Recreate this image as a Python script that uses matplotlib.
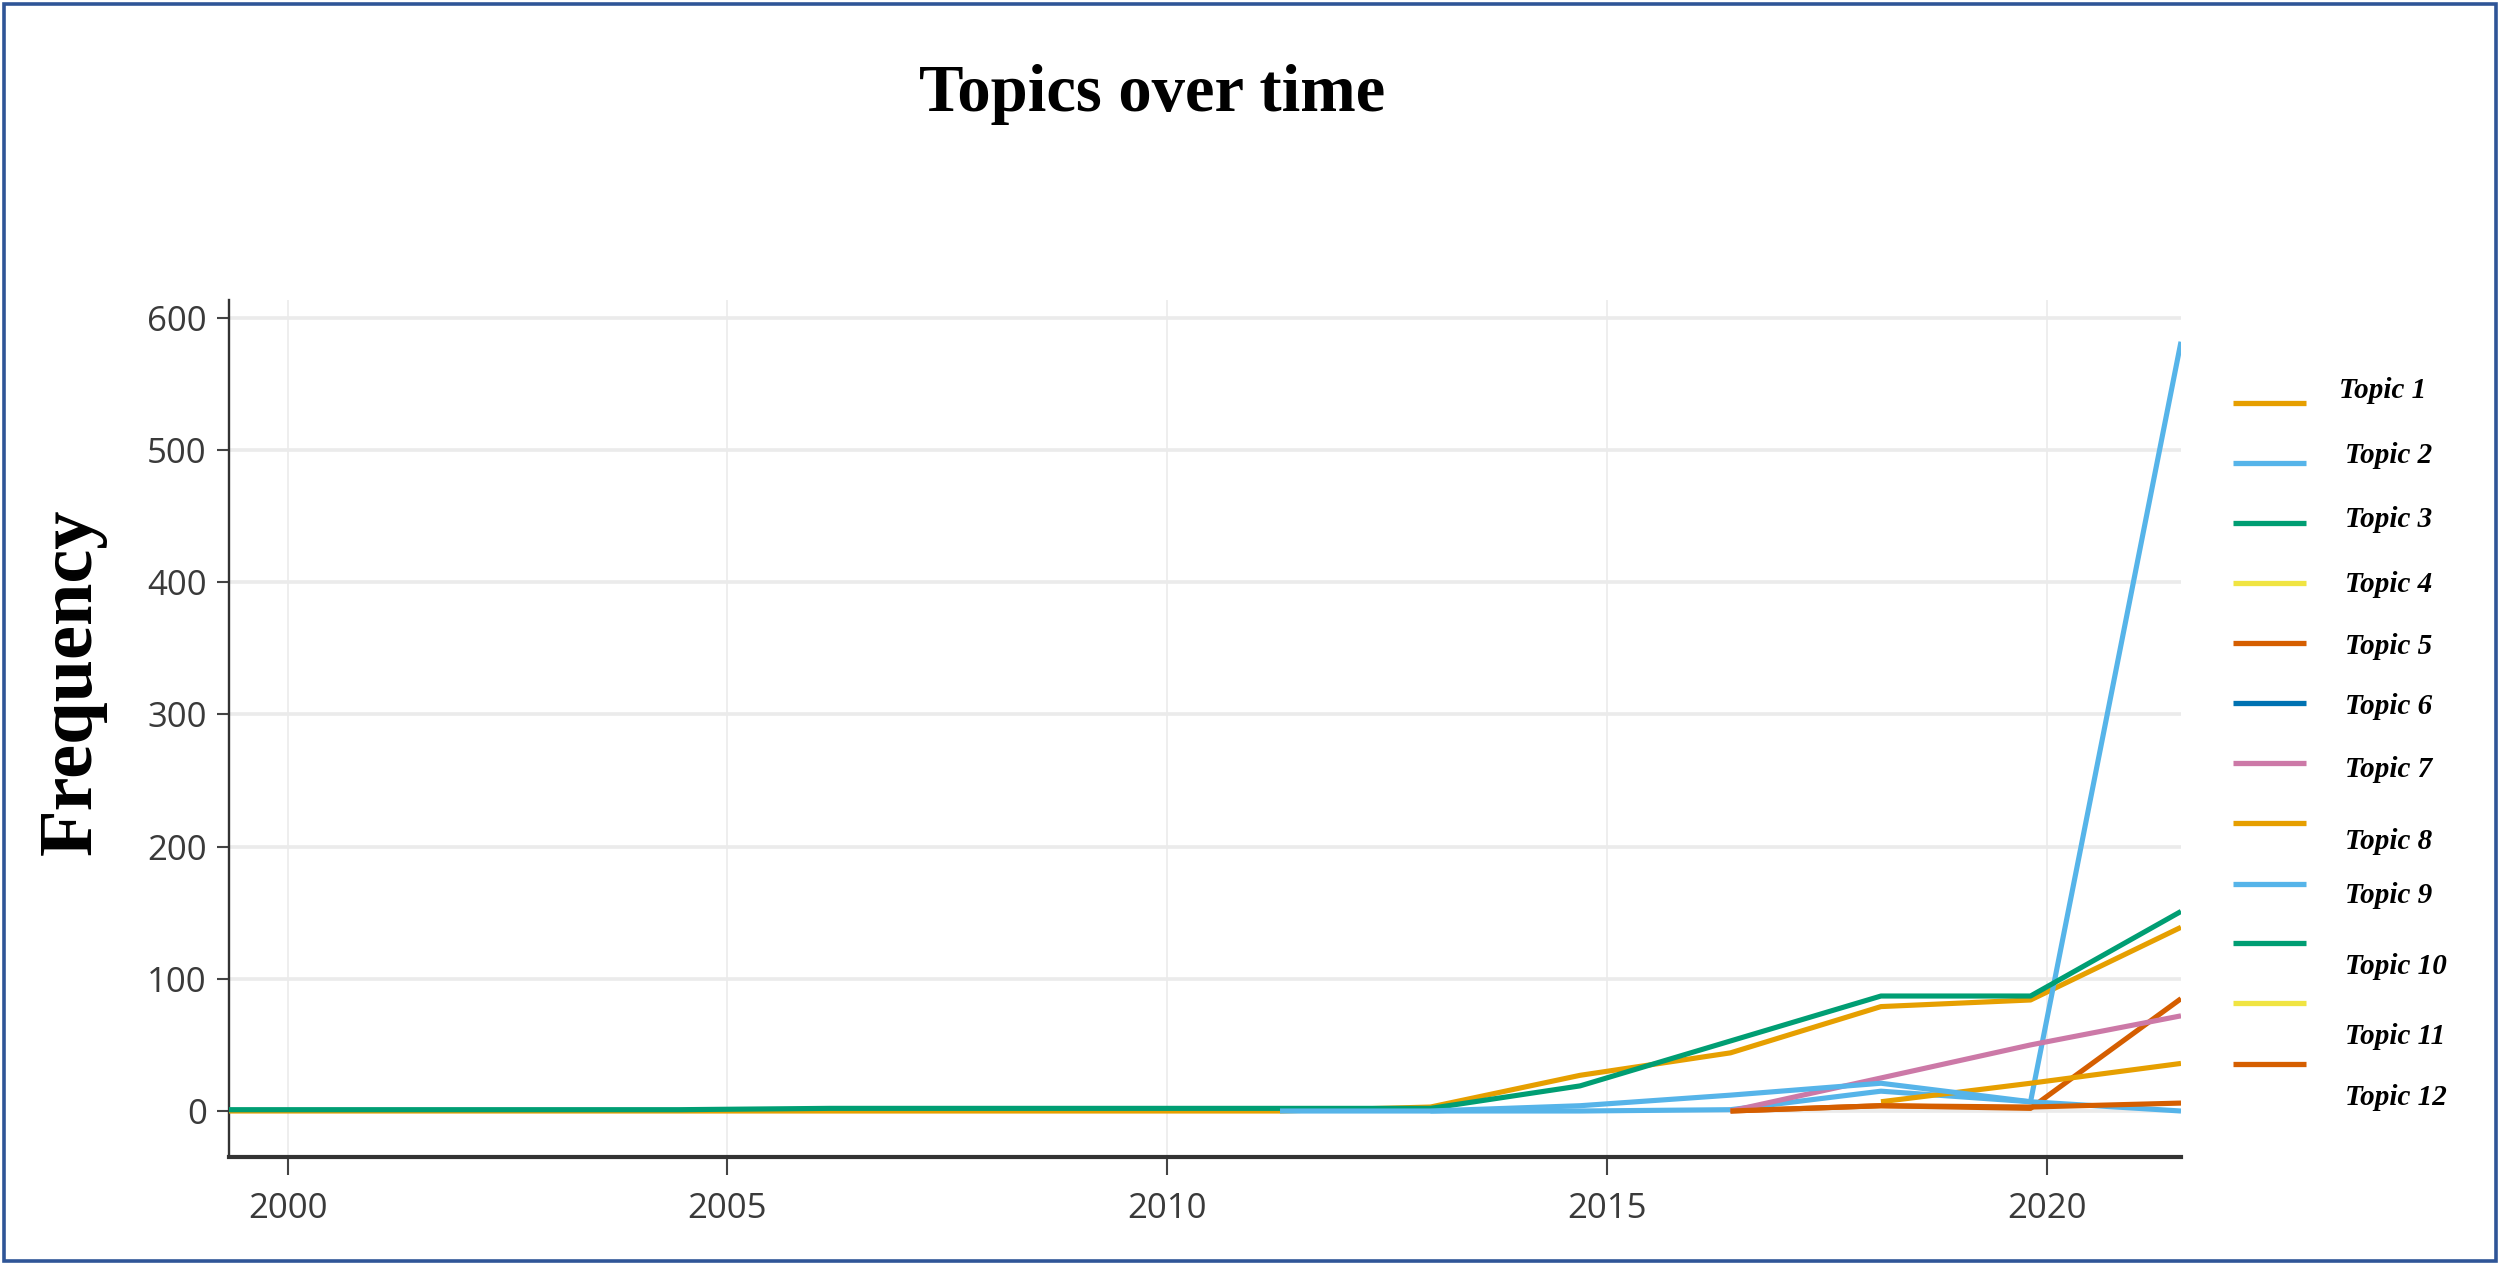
import numpy as np
import matplotlib
matplotlib.use("Agg")
import matplotlib.pyplot as plt
from matplotlib.lines import Line2D
from matplotlib.patches import Rectangle

nan = np.nan

# ---- data ----
bins = [1999.335, 2001.04, 2002.75, 2004.45, 2006.16, 2007.87, 2009.57,
        2011.28, 2012.99, 2014.69, 2016.40, 2018.11, 2019.81, 2021.52]

topic_1 = [0, 0, 0, 0, 0, 0, 0, 0, 3, 27, 44, 79, 84, 139]
topic_2 = [nan, nan, nan, nan, nan, nan, nan, nan, 0, 0, 1, 15, 7, 582]
topic_3 = [1, 1, 1, 1, 2, 2, 2, 2, 2, 19, 53, 87, 87, 151]
topic_4 = [nan, nan, nan, nan, nan, nan, nan, nan, nan, nan, nan, nan, nan, 1]
topic_5 = [nan, nan, nan, nan, nan, nan, nan, nan, nan, nan, 0, 4, 2, 85]
topic_6 = [nan, nan, nan, nan, nan, nan, nan, nan, nan, nan, nan, nan, nan, 1]
topic_7 = [nan, nan, nan, nan, nan, nan, nan, nan, nan, nan, 0, 25, 50, 72]
topic_8 = [nan, nan, nan, nan, nan, nan, nan, nan, nan, nan, nan, 7, 21, 36]
topic_9 = [nan, nan, nan, nan, nan, nan, nan, 0, 0, 4, 12, 21, 7, 0]
topic_10 = [nan, nan, nan, nan, nan, nan, nan, nan, nan, nan, nan, nan, nan, 1]
topic_11 = [nan, nan, nan, nan, nan, nan, nan, nan, nan, nan, nan, nan, nan, 1]
topic_12 = [nan, nan, nan, nan, nan, nan, nan, nan, nan, nan, 0, 4, 3, 6]

topic_names = ["Topic 1", "Topic 2", "Topic 3", "Topic 4", "Topic 5", "Topic 6",
               "Topic 7", "Topic 8", "Topic 9", "Topic 10", "Topic 11", "Topic 12"]
series = [topic_1, topic_2, topic_3, topic_4, topic_5, topic_6,
          topic_7, topic_8, topic_9, topic_10, topic_11, topic_12]
colors = ["#E69F00", "#56B4E9", "#009E73", "#F0E442", "#D55E00", "#0072B2",
          "#CC79A7", "#E69F00", "#56B4E9", "#009E73", "#F0E442", "#D55E00"]

x_ticks = [2000, 2005, 2010, 2015, 2020]
y_ticks = [0, 100, 200, 300, 400, 500, 600]

# ---- figure ----
W, H = 2500, 1265
fig = plt.figure(figsize=(W / 100, H / 100), dpi=100)
fig.patch.set_facecolor("white")

def fx(px):
    return px / W

def fy(py):
    return 1 - py / H

ax = fig.add_axes([fx(229), fy(1157), fx(2181) - fx(229), fy(300) - fy(1157)])

for vals, c in zip(series, colors):
    ax.plot(bins, vals, color=c, lw=3.7, solid_capstyle="butt", zorder=3)

ax.set_xlim(1999.335, 2021.52)
ax.set_ylim(-34.8, 613.6)
ax.set_xticks(x_ticks)
ax.set_yticks(y_ticks)
ax.set_xticklabels([str(t) for t in x_ticks])
ax.set_yticklabels([str(t) for t in y_ticks])

for s in ["top", "right"]:
    ax.spines[s].set_visible(False)
ax.spines["left"].set_color("#333333")
ax.spines["left"].set_linewidth(1.7)
ax.spines["bottom"].set_color("#333333")
ax.spines["bottom"].set_linewidth(3.0)

ax.yaxis.grid(True, color="#EBEBEB", lw=2.6, zorder=0)
ax.xaxis.grid(True, color="#EDEDED", lw=1.3, zorder=0)
ax.set_axisbelow(True)

ax.tick_params(axis="y", direction="out", length=9, width=1.5, color="#444444",
               pad=7, labelsize=25, labelcolor="#3a3a3a")
ax.tick_params(axis="x", direction="out", length=13, width=1.5, color="#444444",
               pad=12, labelsize=25, labelcolor="#3a3a3a")
for lab in ax.get_xticklabels() + ax.get_yticklabels():
    lab.set_family(["Open Sans", "DejaVu Sans"])

# ---- title and y label ----
fig.text(fx(1152), fy(111), "Topics over time", ha="center", va="baseline",
         family=["Liberation Serif", "DejaVu Serif"], fontweight="bold",
         fontsize=48, color="black")
fig.text(fx(72), fy(682), "Frequency", ha="center", va="center", rotation=90,
         family=["Liberation Serif", "DejaVu Serif"], fontweight="bold",
         fontsize=55, color="black")

# ---- legend (manual) ----
line_y = [403, 463, 523, 583, 643, 703, 763, 823, 884, 943, 1003, 1064]
text_y = [388, 453, 517, 582, 644, 704, 767, 839, 893, 964, 1034, 1095]
for i, (name, c) in enumerate(zip(topic_names, colors)):
    fig.add_artist(Line2D([fx(2233), fx(2306)], [fy(line_y[i]), fy(line_y[i])],
                          color=c, lw=3.8, solid_capstyle="butt",
                          transform=fig.transFigure))
    tx = 2339 if i == 0 else 2345
    fig.text(fx(tx), fy(text_y[i] + 10), name, ha="left", va="baseline",
             family=["Liberation Serif", "DejaVu Serif"], fontweight="bold",
             fontstyle="italic", fontsize=21, color="black")

# ---- frame border ----
fig.add_artist(Rectangle((fx(4), fy(1261)), fx(2496) - fx(4), fy(4) - fy(1261),
                         transform=fig.transFigure, fill=False,
                         edgecolor="#2F5597", lw=2.6))

fig.savefig("out.png", dpi=100, facecolor="white")
